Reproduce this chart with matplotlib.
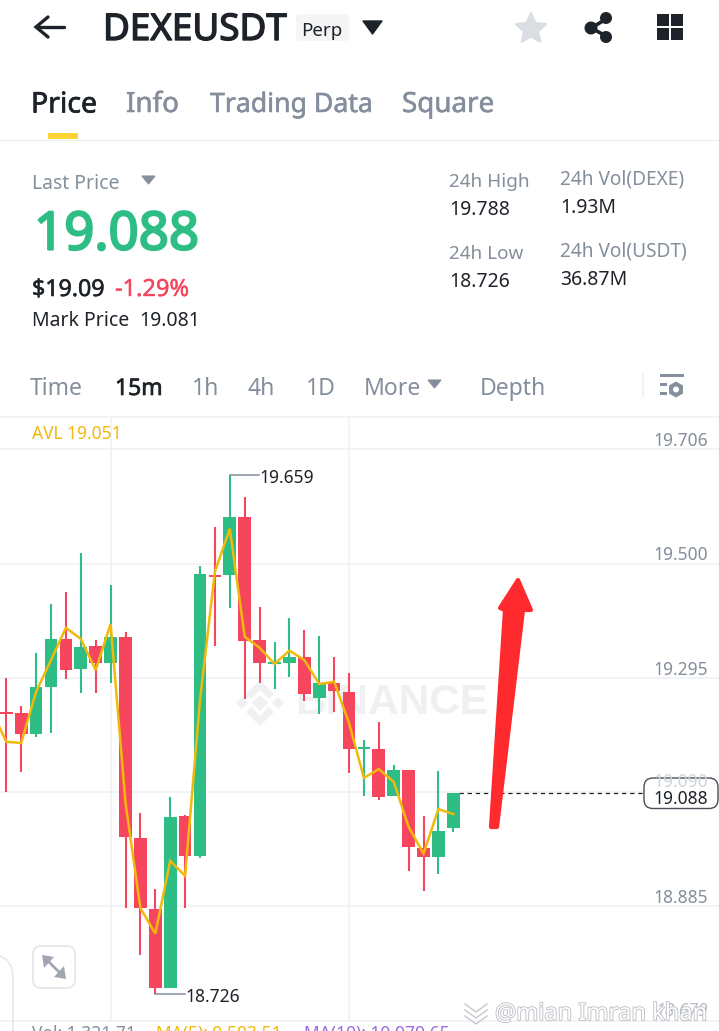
import numpy as np
import matplotlib
matplotlib.use('Agg')
import matplotlib.pyplot as plt
from matplotlib.patches import Polygon, Rectangle, FancyBboxPatch, Circle
import matplotlib.patheffects as pe

plt.rcParams['font.family'] = ['Noto Sans', 'DejaVu Sans']

# candle values
opens = [19.234, 19.232, 19.194, 19.279, 19.365, 19.311, 19.353, 19.322, 19.369, 19.007, 18.880,
         18.738, 19.047, 18.975, 19.480, 19.480, 19.585, 19.363, 19.320, 19.322, 19.333, 19.259,
         19.286, 19.270, 19.167, 19.167, 19.083, 19.130, 18.989, 18.973, 19.025]
closes = [19.230, 19.194, 19.279, 19.365, 19.309, 19.351, 19.322, 19.369, 19.009, 18.881, 18.738,
          19.045, 18.975, 19.482, 19.476, 19.585, 19.362, 19.322, 19.324, 19.333, 19.266, 19.286,
          19.272, 19.167, 19.171, 19.081, 19.130, 18.991, 18.973, 19.020, 19.088]
highs = [19.295, 19.245, 19.340, 19.428, 19.450, 19.520, 19.363, 19.462, 19.378, 19.052, 18.916,
         19.081, 19.049, 19.496, 19.567, 19.659, 19.620, 19.423, 19.360, 19.403, 19.381, 19.371,
         19.333, 19.304, 19.184, 19.216, 19.139, 19.130, 19.047, 19.128, 19.088]
lows = [19.090, 19.126, 19.189, 19.196, 19.293, 19.268, 19.268, 19.286, 18.881, 18.797, 18.726,
        18.738, 18.881, 18.971, 19.353, 19.421, 19.257, 19.286, 19.275, 19.297, 19.254, 19.230,
        19.234, 19.124, 19.083, 19.076, 19.083, 18.948, 18.912, 18.943, 19.018]
# MA line starts one candle left of the visible window
ma5 = [19.237, 19.180, 19.178, 19.270, 19.327, 19.385, 19.365, 19.309, 19.392, 19.070, 18.881,
       18.835, 18.966, 18.939, 19.255, 19.486, 19.563, 19.369, 19.349, 19.320, 19.344, 19.327,
       19.284, 19.288, 19.214, 19.115, 19.131, 19.108, 19.027, 18.979, 19.059, 19.050]
price_ticks = [19.706, 19.500, 19.295, 19.090, 18.885]
tick_labels = ['19.706', '19.500', '19.295', '19.090', '18.885']
grid_candles = [7, 23]
last_price = 19.088

GREEN = '#2EBD85'
RED = '#F6465D'
GOLD = '#F0B90B'
DARK = '#1E2329'
GREY = '#848E9C'
LINE = '#EEF0F2'
MARK = '#EFF0F2'

W, H = 719, 1031
fig = plt.figure(figsize=(W / 100, H / 100), dpi=100, facecolor='white')


def px_rect(x0, y0, x1, y1):
    return [x0 / W, 1 - y1 / H, (x1 - x0) / W, (y1 - y0) / H]


# chart axes, everything else goes on an overlay in pixel coordinates
ax = fig.add_axes(px_rect(0, 417, 719, 1021))
ov = fig.add_axes([0, 0, 1, 1], facecolor='none')
ov.set_xlim(0, W)
ov.set_ylim(H, 0)
ov.axis('off')

ax.set_xlim(-0.423, 47.83)
ax.set_ylim(18.678, 19.764)
ax.axis('off')

for p in price_ticks:
    ax.axhline(p, color=LINE, lw=1.1, zorder=1)
for c in grid_candles:
    ax.axvline(c, color=LINE, lw=1.1, zorder=1)

# watermark under the candles
ax.text(295, 703, 'BINANCE', transform=ov.transData, color=MARK, fontsize=30.5, fontweight='bold',
        va='center', ha='left', zorder=1.5, family='Liberation Sans')
for pts in [[(260, 680), (274, 694), (269, 699), (260, 690), (251, 699), (246, 694)],
            [(260, 726), (274, 712), (269, 707), (260, 716), (251, 707), (246, 712)],
            [(260, 695), (268, 703), (260, 711), (252, 703)],
            [(236, 703), (242, 697), (248, 703), (242, 709)],
            [(272, 703), (278, 697), (284, 703), (278, 709)]]:
    ax.add_patch(Polygon(pts, closed=True, transform=ov.transData, fc=MARK, ec='none', zorder=1.5))

idx = np.arange(len(opens))
colors = [GREEN if c >= o else RED for o, c in zip(opens, closes)]
ax.vlines(idx, lows, highs, colors=colors, lw=1.5, zorder=3)
ax.bar(idx, np.abs(np.array(closes) - np.array(opens)), bottom=np.minimum(opens, closes), width=0.85,
       color=colors, zorder=3)
ax.plot(np.arange(-1, len(opens)), ma5, color=GOLD, lw=1.8, zorder=4, solid_joinstyle='miter')
ax.plot([30.4, 47.83], [last_price, last_price], color=DARK, lw=0.9, dashes=(3.5, 3), zorder=2)

# high / low markers
hi = int(np.argmax(highs))
lo = int(np.argmin(lows))
ax.plot([hi, hi + 1.95], [highs[hi], highs[hi]], color=GREY, lw=1.1, zorder=4)
ax.plot([lo, lo + 2.0], [lows[lo], lows[lo]], color=GREY, lw=1.1, zorder=4)
for i, val in [(hi, highs[hi]), (lo, lows[lo])]:
    ax.annotate(f'{val:.3f}', xy=(i + 2.0, val), xytext=(0, -1.6), textcoords='offset points',
                color=DARK, fontsize=12.5, va='center', zorder=5)


def label(x, y, s, color=GREY, size=14, bold=0, ha='left', **kw):
    # Noto Sans only ships one weight here, so heavier text gets a thin stroke
    t = ov.text(x, y + 2, s, color=color, fontsize=size, ha=ha, va='center', **kw)
    if bold:
        t.set_path_effects([pe.withStroke(linewidth=bold, foreground=color)])
    return t


# current price box
ov.add_patch(FancyBboxPatch((644, 778), 74, 30.5, boxstyle='round,pad=0,rounding_size=9', fc='white',
                            ec='#474D57', lw=1.0, zorder=6))
label(708, 797, f'{last_price:.3f}', DARK, 12.5, ha='right', zorder=7)

# price scale labels
for p, lab in zip(price_ticks, tick_labels):
    y = 564 - (p - 19.5) / 0.001798 - 8.5
    if lab == '19.090':
        y -= 1.5
    ov.text(708, y, lab, color='#D0D4D9' if lab == '19.090' else GREY, fontsize=12.5,
            ha='right', va='center', zorder=7)
ov.text(708, 1011, '18.679', color='#B9BEC6', fontsize=12.5, ha='right', va='center', style='italic')

# red arrow drawn on top of the screenshot
ov.add_patch(Polygon([(491, 827), (505, 610), (500, 608), (518, 580), (531, 610), (523, 610), (497, 827)],
                     closed=True, fc='#FF2A2E', ec='#FF2A2E', lw=3, joinstyle='round', zorder=8))

# header
ov.plot([37, 64], [27, 27], color=DARK, lw=2.4, solid_capstyle='round')
ov.plot([48, 36, 48], [17, 27, 37], color=DARK, lw=2.4, solid_capstyle='round', solid_joinstyle='miter')
label(103, 29, 'DEXEUSDT', DARK, 26.5, bold=1.0)
ov.add_patch(FancyBboxPatch((296, 14), 53, 27, boxstyle='round,pad=0,rounding_size=3', fc='#F5F5F5', ec='none'))
label(322, 29.5, 'Perp', DARK, 13.5, ha='center')
ov.add_patch(Polygon([(363, 21), (382, 21), (372.5, 34)], closed=True, fc=DARK, ec=DARK, lw=1, joinstyle='round'))

ang = np.deg2rad(np.arange(0, 360, 36) - 90)
rad = np.where(np.arange(10) % 2 == 0, 16, 7.5)
ov.add_patch(Polygon(np.c_[531 + rad * np.cos(ang), 29 + rad * np.sin(ang)], closed=True, fc='#DADDE2',
                     ec='#DADDE2', lw=1.5, joinstyle='round'))
ov.plot([608, 591, 608], [18, 28, 37], color=DARK, lw=2.6)
for cx, cy, r in [(606, 18, 6), (591, 28, 6.5), (606, 37, 6)]:
    ov.add_patch(Circle((cx, cy), r, fc=DARK, ec='none'))
for x0 in (657, 671):
    for y0 in (14, 28):
        ov.add_patch(Rectangle((x0, y0), 12, 12, fc=DARK, ec='none'))

label(31, 103, 'Price', DARK, 20.5, bold=0.5)
label(126, 103, 'Info', GREY, 20, bold=0.4)
label(210, 103, 'Trading Data', GREY, 19.2, bold=0.4)
label(402, 103, 'Square', GREY, 20, bold=0.4)
ov.add_patch(Rectangle((48, 133), 30, 6, fc='#FCD535', ec='none'))
ov.plot([0, W], [139.5, 139.5], color=LINE, lw=1)

# price summary
label(32, 182, 'Last Price', GREY, 14)
ov.add_patch(Polygon([(142, 176), (155, 176), (148.5, 184)], closed=True, fc=GREY, ec=GREY, lw=0.8))
label(34, 234, '19.088', GREEN, 38, bold=1.6)
label(32, 288, '$19.09', DARK, 16.7, bold=0.4)
label(115, 288, '-1.29%', RED, 17, bold=0.3)
label(32, 319, 'Mark Price', DARK, 14)
label(139, 319, '19.081', DARK, 14)

label(449, 180, '24h High', GREY, 13.6)
label(449, 208, '19.788', DARK, 14)
label(449, 252, '24h Low', GREY, 13.6)
label(449, 280, '18.726', DARK, 14)
label(560, 177, '24h Vol(DEXE)', GREY, 13.7)
label(560, 206, '1.93M', DARK, 14)
label(560, 250, '24h Vol(USDT)', GREY, 13.7)
label(560, 278, '36.87M', DARK, 14)

# interval row
for x, s in [(30, 'Time'), (192, '1h'), (248, '4h'), (306, '1D'), (364, 'More'), (480, 'Depth')]:
    label(x, 387, s, GREY, 16.5)
label(115, 387, '15m', DARK, 16.5, bold=0.5)
ov.add_patch(Polygon([(428, 380), (441, 380), (434.5, 388)], closed=True, fc=GREY, ec=GREY, lw=0.8))
ov.plot([643, 643], [374, 397], color=LINE, lw=1.2)
ov.add_patch(Rectangle((660, 374), 24, 2.5, fc=GREY, ec='none'))
ov.add_patch(Rectangle((660, 383), 7, 3, fc=GREY, ec='none'))
ov.add_patch(Rectangle((660, 392), 7, 3, fc=GREY, ec='none'))
hex_ang = np.deg2rad(np.arange(30, 390, 60))
ov.add_patch(Polygon(np.c_[676 + 8 * np.cos(hex_ang), 389.5 + 8 * np.sin(hex_ang)], closed=True, fc=GREY, ec='none'))
ov.add_patch(Circle((676, 389.5), 3, fc='white', ec='none'))
ov.plot([0, W], [416.5, 416.5], color=LINE, lw=1.1)
ov.plot([0, W], [1020.5, 1020.5], color=LINE, lw=1.1)

label(32, 432, 'AVL 19.051', GOLD, 12.5)

# expand button and the panel peeking in at the lower left
ov.add_patch(FancyBboxPatch((33, 946), 42, 42, boxstyle='round,pad=0,rounding_size=8', fc='white', ec='#E6E8EB', lw=1.4))
ov.plot([46, 62], [959, 975], color='#A0A7B2', lw=2)
ov.add_patch(Polygon([(42, 955), (54, 957), (44, 968)], closed=True, fc='#A0A7B2', ec='none'))
ov.add_patch(Polygon([(66, 979), (54, 977), (64, 966)], closed=True, fc='#A0A7B2', ec='none'))
ov.plot([0, 7, 12, 13, 13], [956, 960, 968, 978, 1031], color='#E6E8EB', lw=1.2)

# cut-off legend row
label(32, 1032, 'Vol: 1,321.71', GREY, 12.5)
label(156, 1032, 'MA(5): 9,593.51', GOLD, 12.5)
label(304, 1032, 'MA(10): 10,979.65', '#9C6ADE', 12.5)

# repost watermark
txt = label(495, 1012, '@mian Imran khan', 'white', 17, zorder=9)
txt.set_path_effects([pe.withStroke(linewidth=1.2, foreground='#B8BCC2')])
for dy in (0, 6, 12):
    ov.plot([465, 476, 487], [1004 + dy, 1012 + dy, 1004 + dy], color='#C4C8CD', lw=1, zorder=9)

fig.savefig('out.png', dpi=100, facecolor='white')
